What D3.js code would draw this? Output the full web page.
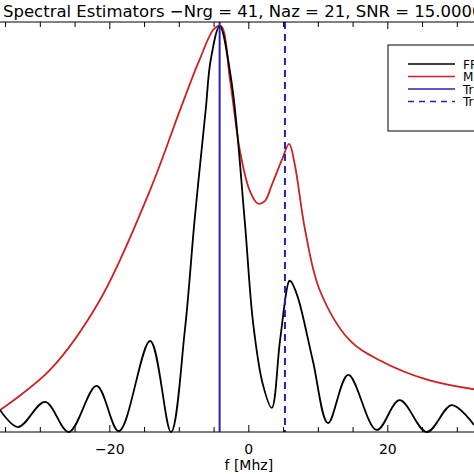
<!DOCTYPE html><html><head><meta charset="utf-8"><script src="https://cdn.jsdelivr.net/npm/d3@7"></script>
<style>body{margin:0;background:#fff}svg{display:block;font-family:"DejaVu Sans",sans-serif}</style></head><body>
<script>
// frequency (MHz) and normalized magnitude
const fftF=[-35.8,-33.2,-29.3,-25.9,-21.9,-18.7,-14.2,-11.2,-9.2,-7.8,-6.2,-5.5,-4.2,-2.5,-0.6,0.6,2.0,3.3,4.5,5.8,6.0,7.0,9.2,11.4,14.3,18.4,21.7,25.6,29.2,32.4];
const fftV=[0.054,0.012,0.074,0,0.113,0.002,0.223,0,0.25,0.52,0.79,0.91,0.995,0.86,0.52,0.27,0.118,0.059,0.226,0.37,0.37,0.333,0.176,0.022,0.14,0.005,0.078,0,0.066,0.017];
const musF=[-35.8,-28.6,-21.4,-14.2,-9.9,-7.1,-5.0,-4.0,-2.7,-1.3,0.1,1.3,2.3,3.3,4.8,5.8,6.6,8.1,10.2,14.5,18.8,25.9,33.1];
const musV=[0.054,0.152,0.324,0.593,0.789,0.912,0.988,0.995,0.863,0.691,0.593,0.56,0.566,0.605,0.669,0.706,0.657,0.495,0.348,0.225,0.176,0.127,0.103];
const trueF=[-4.2,5.2];
const xTicks=[-20,0,20];
const legendLabels=["FFT","MUSIC","True f1","True f2"];
const title="Spectral Estimators \u2212Nrg = 41, Naz = 21, SNR = 15.000000";

const W=474,H=474,pTop=22,pBot=432;
const svg=d3.select("body").append("svg").attr("width",W).attr("height",H);
const x=d3.scaleLinear().domain([-35.8,32.4]).range([0,474]);
const y=d3.scaleLinear().domain([0,1]).range([pBot,pTop+2]);
svg.append("text").attr("x",3).attr("y",17).attr("font-size",16.5).text(title);
const line=d3.line().x(d=>x(d[0])).y(d=>y(d[1])).curve(d3.curveCatmullRom.alpha(0.5));
svg.append("path").attr("d",line(musF.map((f,i)=>[f,musV[i]]))).attr("fill","none").attr("stroke","#cc2222").attr("stroke-width",1.8);
svg.append("path").attr("d",line(fftF.map((f,i)=>[f,fftV[i]]))).attr("fill","none").attr("stroke","#000").attr("stroke-width",1.8);
trueF.forEach((f,i)=>svg.append("line").attr("x1",x(f)).attr("x2",x(f)).attr("y1",pTop).attr("y2",pBot).attr("stroke","#2222bb").attr("stroke-width",2).attr("stroke-dasharray",i?"7,5":null));
svg.append("line").attr("x1",0).attr("x2",W).attr("y1",pTop).attr("y2",pTop).attr("stroke","#000");
svg.append("line").attr("x1",0).attr("x2",W).attr("y1",pBot).attr("y2",pBot).attr("stroke","#000");
const minor=d3.range(-35,33,5);
minor.forEach(t=>{const big=t%20===0;const l=big?7:5;
 svg.append("line").attr("x1",x(t)).attr("x2",x(t)).attr("y1",pBot).attr("y2",pBot-l).attr("stroke","#000");
 svg.append("line").attr("x1",x(t)).attr("x2",x(t)).attr("y1",pTop).attr("y2",pTop+l).attr("stroke","#000");});
xTicks.forEach(t=>svg.append("text").attr("x",x(t)).attr("y",454).attr("text-anchor","middle").attr("font-size",14).text(t<0?"\u2212"+Math.abs(t):t));
svg.append("text").attr("x",x(0)).attr("y",470).attr("text-anchor","middle").attr("font-size",14).text("f [Mhz]");
svg.append("rect").attr("x",388).attr("y",45).attr("width",100).attr("height",86).attr("fill","#fff").attr("stroke","#000");
const lc=["#000","#cc2222","#2222bb","#2222bb"];
legendLabels.forEach((s,i)=>{const yy=64+i*12.5;
 svg.append("line").attr("x1",408).attr("x2",455).attr("y1",yy).attr("y2",yy).attr("stroke",lc[i]).attr("stroke-width",1.6).attr("stroke-dasharray",i==3?"6,5":null);
 svg.append("text").attr("x",463).attr("y",yy+4.5).attr("font-size",12).text(s);});
</script></body></html>
